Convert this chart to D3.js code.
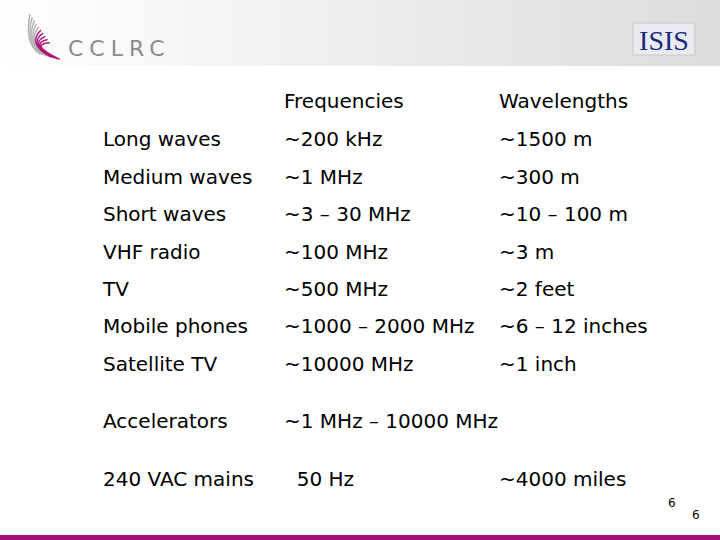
<!DOCTYPE html><html><head><meta charset="utf-8"><script src="https://cdn.jsdelivr.net/npm/d3@7"></script>
<style>body{margin:0;background:#fff}</style></head><body><svg id="c" width="720" height="540"></svg>
<script>
const headers = ["Frequencies", "Wavelengths"];
const categories = ["Long waves","Medium waves","Short waves","VHF radio","TV","Mobile phones","Satellite TV","Accelerators","240 VAC mains"];
const frequencies = ["~200 kHz","~1 MHz","~3 – 30 MHz","~100 MHz","~500 MHz","~1000 – 2000 MHz","~10000 MHz","~1 MHz – 10000 MHz","  50 Hz"];
const wavelengths = ["~1500 m","~300 m","~10 – 100 m","~3 m","~2 feet","~6 – 12 inches","~1 inch","","~4000 miles"];
const rowY = [139,177,214,252,289,326,364,421,479];

const svg = d3.select("#c");
const defs = svg.append("defs");
const g = defs.append("linearGradient").attr("id","hg");
g.append("stop").attr("offset","0").attr("stop-color","#ffffff");
g.append("stop").attr("offset","1").attr("stop-color","#dcdcdc");
svg.append("rect").attr("width",720).attr("height",66).attr("fill","url(#hg)");
// CCLRC logo: fan of arcs
const lg = svg.append("g");
for (let i=0;i<10;i++){
  const sx = 30+i*2.2, sy = 14+i*3.2;
  lg.append("path").attr("d",`M${sx},${sy} Q${24+i*0.5},${44} ${40+i*2.2},${54+i*0.6}`)
    .attr("fill","none").attr("stroke", i<5?"#b5b5b5":"#b0177a").attr("stroke-width",1.5);
}
svg.append("text").attr("x",68).attr("y",56).text("CCLRC").attr("font-family","DejaVu Sans").attr("font-size",22)
  .attr("fill","#8a8a8a").attr("letter-spacing",6);
svg.append("rect").attr("x",633).attr("y",23).attr("width",62).attr("height",32).attr("fill","#eaeaf2").attr("stroke","#c8c8c8");
svg.append("text").attr("x",664).attr("y",50).attr("text-anchor","middle").text("ISIS").attr("font-family","Liberation Serif")
  .attr("font-size",28).attr("fill","#1a2a7a");
svg.append("rect").attr("x",0).attr("y",535).attr("width",720).attr("height",5).attr("fill","#a50f78");

const font = {"font-family":"DejaVu Sans","font-size":20,"fill":"#000"};
function txt(x,y,s){const t=svg.append("text").attr("x",x).attr("y",y).text(s).attr("xml:space","preserve");for(const k in font)t.attr(k,font[k]);return t;}
const x = d3.scaleOrdinal().domain(["cat","freq","wave"]).range([103,284,499]);
txt(x("freq"),108,headers[0]); txt(x("wave"),108,headers[1]);
categories.forEach((c,i)=>{
  txt(x("cat"),rowY[i]+7,c);
  txt(x("freq"),rowY[i]+7,frequencies[i]);
  txt(x("wave"),rowY[i]+7,wavelengths[i]);
});
svg.append("text").attr("x",668).attr("y",507).text("6").attr("font-family","DejaVu Sans").attr("font-size",12);
svg.append("text").attr("x",692).attr("y",519).text("6").attr("font-family","DejaVu Sans").attr("font-size",12);
</script></body></html>
